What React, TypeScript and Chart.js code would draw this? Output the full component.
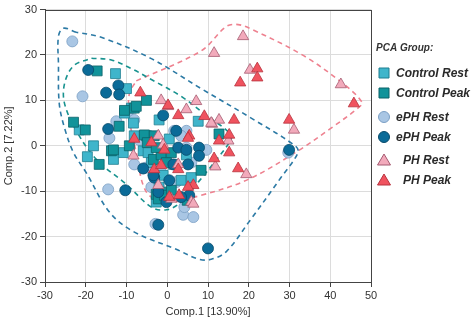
import React, { useEffect, useRef } from "react";
import { Chart, registerables } from "chart.js";

Chart.register(...registerables);

// ---- Data (Comp.1, Comp.2) ----
const controlRest: [number, number][] = [
  [-12.7, 15.9], [-10.0, 12.6], [-10.5, 7.2], [-21.6, 3.5], [-18.1, 0], [-19.6, -2.4],
  [-13.2, -3.0], [-10.8, -1.5], [-8.3, 5.0], [-2.0, 5.7], [0.5, 1.5], [7.6, 5.4],
  [-5.1, 2.2], [-5.9, -1.1], [-1.0, -6.5], [-2.7, -12.4], [-8.1, 2.2], [-4.7, -1.5],
  [-2.0, -9.1], [3.4, -7.6], [-3.9, -3.7], [1.5, -4.1], [-8.8, 8.3], [5.9, -7.0], [4.7, -2.0],
];
const controlPeak: [number, number][] = [
  [-17.2, 16.5], [-23.0, 5.2], [-20.1, 3.5], [-16.7, -4.1], [-13.7, -1.1], [-11.8, 4.3],
  [-8.1, 8.3], [-5.1, 10.0], [-7.6, 8.7], [-9.3, 0], [-5.6, 2.4], [-3.4, -3.0],
  [-2.7, -10.7], [-1.0, -10.2], [-2.2, -11.7], [12.7, 2.6], [8.3, -5.4], [-3.2, 2.2],
  [-1.5, -2.0], [-0.2, -3.7], [-4.9, 0.7], [1.0, -1.5], [-0.7, -10.9], [1.0, -9.8],
  [-10.5, 7.8], [-13.2, -0.9], [-2.7, -0.4], [4.9, -12.0],
];
const ephRest: [number, number][] = [
  [-23.3, 23.0], [-20.8, 10.9], [-14.5, -9.6], [-2.9, -17.2], [3.9, -15.2], [6.4, -15.7],
  [4.2, -13.5], [29.7, -1.5], [-14.2, 1.7], [-12.5, 5.4], [-9.6, 7.6], [-8.1, 5.7],
  [-6.9, 1.3], [4.7, 3.3], [3.4, 2.2], [4.7, -0.4], [9.6, -0.9], [-8.1, -4.1],
  [1.7, 3.3], [-5.1, -4.8], [-1.5, -5.9], [5.9, -3.7], [-3.9, -9.1], [2.2, -8.0],
];
const ephPeak: [number, number][] = [
  [-19.4, 16.7], [-15.0, 11.7], [-12.0, 13.3], [-11.8, 11.3], [-14.5, 3.7], [-1.0, 6.7],
  [2.2, 3.3], [2.7, -0.4], [7.8, -0.4], [7.8, -2.2], [4.7, -0.9], [-10.3, -9.8],
  [-5.9, -5.0], [-2.2, -17.4], [-3.2, -7.0], [10.0, -22.6], [29.9, -0.9], [1.5, -4.1],
  [5.1, -4.1], [-3.4, -6.5], [0.5, -7.6], [5.4, -10.9], [-2.2, -10.2], [-0.2, -12.4], [3.4, -11.3],
];
const phRest: [number, number][] = [
  [18.6, 24.1], [11.5, 20.4], [20.3, 16.7], [42.6, 13.5], [31.1, 3.5], [12.7, 5.7],
  [11.0, 4.8], [15.0, 1.1], [11.8, -4.6], [-1.5, 10.0], [0.2, 8.7], [7.1, 9.8],
  [10.8, 5.0], [4.7, 8.0], [-2.2, 2.2], [-1.0, 0.2], [-8.3, -2.2], [-2.2, -8.7],
  [1.0, -11.7], [2.7, -4.1], [5.9, -12.4], [19.4, -6.3], [6.4, -12.8],
];
const phPeak: [number, number][] = [
  [17.9, 13.9], [22.1, 17.0], [22.1, 15.0], [45.8, 9.3], [29.9, 5.7], [16.4, 5.7],
  [9.1, 6.5], [15.2, 2.4], [15.2, -1.5], [12.7, 1.1], [11.5, -2.8], [17.4, -5.0],
  [-6.6, 11.7], [2.7, 6.7], [5.4, 2.2], [-8.1, 1.5], [-3.9, 0.7], [0.2, 8.9],
  [-3.2, -5.2], [-1.5, -4.3], [2.7, -5.2], [6.4, -8.7], [0.5, -11.3], [2.9, -10.9],
  [5.1, 1.7], [-0.7, -0.9], [5.1, -9.1],
];

// Group outlines (dashed hulls)
const ephHull: [number, number][] = [
  [-22.3, 25.0], [-25.5, 25.9], [-26.7, 24.1], [-26.7, 18.0], [-26.5, 9.3], [-25.2, 3.9],
  [-23.0, -1.5], [-19.9, -5.9], [-14.2, -14.6], [-8.3, -18.9], [2.2, -22.8], [7.8, -25.0],
  [10.8, -25.0], [14.5, -23.3], [20.1, -16.7], [27.9, -7.0], [32.1, -1.5], [31.4, 0],
  [20.6, 6.1], [8.3, 12.6], [-3.9, 19.2], [-16.2, 23.9], [-22.3, 25.0],
];
const controlHull: [number, number][] = [
  [-18.6, 19.3], [-13.7, 18.9], [-8.8, 17.0], [-3.9, 14.6], [3.4, 10.9], [9.6, 6.7],
  [15.7, 2.4], [15.2, 0.7], [11.5, -3.7], [7.6, -8.0], [3.4, -12.4], [-0.2, -14.1],
  [-3.9, -13.5], [-10.0, -8.5], [-17.4, -3.0], [-22.3, 3.3], [-25.2, 9.3], [-25.2, 13.7],
  [-23.0, 17.6], [-18.6, 19.3],
];
const phHull: [number, number][] = [
  [-7.6, 14.3], [8.3, 20.9], [14.5, 26.3], [17.4, 26.7], [20.6, 25.7], [32.8, 20.2],
  [42.6, 14.1], [47.8, 9.6], [46.8, 8.3], [40.2, 3.9], [32.1, -1.1], [19.9, -7.4],
  [8.3, -10.9], [-0.2, -12.4], [-5.1, -10.2], [-7.6, -1.5], [-9.3, 6.1], [-9.3, 11.5],
  [-7.6, 14.3],
];

const xTicks = [-30, -20, -10, 0, 10, 20, 30, 40, 50];
const yTicks = [-30, -20, -10, 0, 10, 20, 30];

const legendItems = [
  { label: "Control Rest", style: "rect", fill: "#3fb5cb", stroke: "#1f7f91", y: 73, tx: 396 },
  { label: "Control Peak", style: "rect", fill: "#11939a", stroke: "#0b6268", y: 93, tx: 396 },
  { label: "ePH Rest", style: "circle", fill: "#a9c6e4", stroke: "#7b9fc4", y: 117, tx: 396 },
  { label: "ePH Peak", style: "circle", fill: "#0b6b98", stroke: "#084a6a", y: 137, tx: 396 },
  { label: "PH Rest", style: "triangle", fill: "#f2aabb", stroke: "#a45a70", y: 160, tx: 403 },
  { label: "PH Peak", style: "triangle", fill: "#f0535f", stroke: "#b8323e", y: 180, tx: 403 },
];

const toPts = (arr: [number, number][]) => arr.map(([x, y]) => ({ x, y }));

export default function App() {
  const ref = useRef<HTMLCanvasElement>(null);
  useEffect(() => {
    if (!ref.current) return;
    const pointDs = (label: string, data: [number, number][], style: string, fill: string, stroke: string, r: number, order: number) => ({
      label,
      data: toPts(data),
      pointStyle: style,
      backgroundColor: fill,
      borderColor: stroke,
      borderWidth: 0.8,
      pointRadius: r,
      showLine: false,
      order,
    });
    const hullDs = (label: string, data: [number, number][], color: string) => ({
      label,
      data: toPts(data),
      showLine: true,
      pointRadius: 0,
      borderColor: color,
      borderWidth: 1.6,
      borderDash: [5, 4],
      tension: 0.35,
      fill: false,
      order: 10,
    });

    const framePlugin = {
      id: "frame",
      afterDatasetsDraw(chart: any) {
        const { ctx, chartArea: a } = chart;
        ctx.save();
        ctx.strokeStyle = "#444";
        ctx.lineWidth = 1;
        ctx.strokeRect(Math.round(a.left) + 0.5, Math.round(a.top) + 0.5, Math.round(a.right - a.left), Math.round(a.bottom - a.top));
        ctx.restore();
      },
      afterDraw(chart: any) {
        const ctx = chart.ctx;
        ctx.save();
        ctx.fillStyle = "#333";
        ctx.font = "bold italic 10px 'Liberation Sans', Arial, sans-serif";
        ctx.textBaseline = "middle";
        ctx.fillText("PCA Group:", 376, 48);
        for (const it of legendItems) {
          const cx = 384;
          const cy = it.y;
          ctx.fillStyle = it.fill;
          ctx.strokeStyle = it.stroke;
          ctx.lineWidth = 1;
          ctx.beginPath();
          if (it.style === "rect") {
            ctx.rect(cx - 5, cy - 5, 10, 10);
          } else if (it.style === "circle") {
            ctx.arc(cx, cy, 5.5, 0, Math.PI * 2);
          } else {
            ctx.moveTo(cx, cy - 6);
            ctx.lineTo(cx + 6.5, cy + 5);
            ctx.lineTo(cx - 6.5, cy + 5);
            ctx.closePath();
          }
          ctx.fill();
          ctx.stroke();
          ctx.fillStyle = "#2a2a2a";
          ctx.font = "bold italic 12px 'Liberation Sans', Arial, sans-serif";
          ctx.fillText(it.label, it.tx, cy + 1);
        }
        ctx.restore();
      },
    };

    const tickFont = { family: "'Liberation Sans', Arial, sans-serif", size: 11 };
    const chart = new Chart(ref.current, {
      type: "scatter",
      data: {
        datasets: [
          pointDs("PH Peak", phPeak, "triangle", "#f0535f", "#b8323e", 6.5, 1),
          pointDs("PH Rest", phRest, "triangle", "#f2aabb", "#a45a70", 6.5, 2),
          pointDs("ePH Peak", ephPeak, "circle", "#0b6b98", "#084a6a", 5.5, 3),
          pointDs("Control Peak", controlPeak, "rect", "#11939a", "#0b6268", 7, 4),
          pointDs("Control Rest", controlRest, "rect", "#3fb5cb", "#1f7f91", 7, 5),
          pointDs("ePH Rest", ephRest, "circle", "#a9c6e4", "#7b9fc4", 5.5, 6),
          hullDs("ePH hull", ephHull, "#2c7aa5"),
          hullDs("Control hull", controlHull, "#17928f"),
          hullDs("PH hull", phHull, "#ee8290"),
        ] as any,
      },
      options: {
        animation: false,
        responsive: false,
        devicePixelRatio: 1,
        layout: { padding: { top: 6, right: 103, left: 0, bottom: 0 } },
        plugins: { legend: { display: false }, tooltip: { enabled: false } },
        scales: {
          x: {
            type: "linear",
            min: -30,
            max: 50,
            afterBuildTicks: (s: any) => { s.ticks = xTicks.map((v) => ({ value: v })); },
            afterFit: (s: any) => { s.height = 40; },
            ticks: { color: "#333", font: tickFont, padding: 2 },
            grid: { color: "#dcdcdc", tickColor: "#444", tickLength: 5 },
            border: { color: "#444" },
            title: { display: true, text: "Comp.1 [13.90%]", color: "#333", font: tickFont, padding: { top: 2, bottom: 3 } },
          },
          y: {
            type: "linear",
            min: -30,
            max: 30,
            afterBuildTicks: (s: any) => { s.ticks = yTicks.map((v) => ({ value: v })); },
            afterFit: (s: any) => { s.width = 45; },
            ticks: { color: "#333", font: tickFont, padding: 3 },
            grid: { color: "#dcdcdc", tickColor: "#444", tickLength: 5 },
            border: { color: "#444" },
            title: { display: true, text: "Comp.2 [7.22%]", color: "#333", font: tickFont, padding: { top: 2, bottom: 2 } },
          },
        },
      } as any,
      plugins: [framePlugin],
    });
    return () => chart.destroy();
  }, []);

  return (
    <div style={{ position: "fixed", left: 0, top: 0, width: 474, height: 322, background: "#fff" }}>
      <canvas ref={ref} width={474} height={322} style={{ width: 474, height: 322, display: "block" }} />
    </div>
  );
}
